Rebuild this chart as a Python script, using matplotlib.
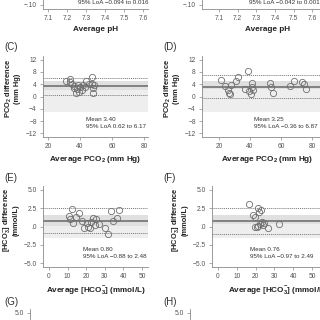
import matplotlib
matplotlib.use("Agg")
import matplotlib.pyplot as plt

plt.rcParams['font.family'] = ['Liberation Sans', 'DejaVu Sans']
plt.rcParams['mathtext.fontset'] = 'custom'
plt.rcParams['mathtext.rm'] = 'Liberation Sans'
plt.rcParams['mathtext.bf'] = 'Liberation Sans:bold'

# panel C: PCO2 (first device)
c_x = [31.5, 33.5, 34.0, 35.0, 36.0, 36.5, 37.5, 38.0, 38.5, 39.5, 40.0, 41.0,
       42.0, 43.0, 44.0, 45.5, 47.8, 47.8, 48.0, 48.0, 48.5]
c_y = [5.0, 5.7, 4.7, 4.2, 3.5, 2.7, 1.2, 2.3, 3.8, 1.5, 3.2, 2.0,
       3.6, 3.0, 5.0, 4.2, 6.3, 4.0, 2.8, 1.3, 3.9]
c_stats = [3.40, 0.62, 6.17]

# panel D: PCO2 (second device)
d_x = [21.0, 24.0, 26.0, 26.5, 27.5, 27.0, 31.0, 32.0, 38.5, 37.0, 39.5, 40.5,
       41.5, 41.5, 42.0, 53.0, 53.5, 55.0, 66.0, 68.5, 73.5, 75.0, 76.0]
d_y = [5.3, 3.3, 2.2, 1.0, 3.8, 0.8, 5.0, 6.3, 8.2, 2.5, 1.9, 0.9,
       4.3, 3.2, 2.0, 4.4, 3.2, 1.0, 3.4, 5.2, 4.8, 4.0, 2.4]
d_stats = [3.25, -0.36, 6.87]

# panel E: HCO3 (first device)
e_x = [11.0, 11.5, 12.5, 13.0, 14.5, 16.0, 18.0, 19.0, 20.3, 21.0, 22.0, 22.8,
       23.5, 24.5, 25.5, 27.0, 30.0, 31.5, 33.2, 34.2, 36.4, 37.8]
e_y = [1.45, 1.0, 2.35, 0.45, 1.35, 1.85, 0.75, -0.25, 0.45, 0.0, -0.15, 0.55,
       1.1, 0.2, 1.0, 0.3, -0.15, -1.05, 2.05, 0.7, 1.2, 2.3]
e_stats = [0.80, -0.88, 2.48]

# panel F: HCO3 (second device)
f_x = [16.5, 18.8, 19.8, 21.5, 22.0, 22.8, 19.5, 20.5, 21.3, 22.3, 23.2, 23.8,
       24.5, 26.5, 32.5]
f_y = [3.1, 1.6, 1.35, 2.55, 2.0, 2.3, -0.05, 0.0, 0.1, 0.35, 0.6, 0.25,
       0.45, -0.25, 0.3]
f_stats = [0.76, -0.97, 2.49]

pco2_ticks = [-12, -8, -4, 0, 4, 8, 12]
pco2_labels = ['\u221212', '\u22128', '\u22124', '0', '4', '8', '12']
hco3_ticks = [-5.0, -2.5, 0.0, 2.5, 5.0]
hco3_labels = ['\u22125.0', '\u22122.5', '.0', '2.5', '5.0']
ph_ticks = [-0.10, -0.05, 0.0, 0.05, 0.10]
ph_labels = ['\u2212.10', '\u2212.05', '.00', '.05', '.10']
ph_xticks = [7.1, 7.2, 7.3, 7.4, 7.5, 7.6]

fig = plt.figure(figsize=(3.2, 3.2), dpi=100)
W = H = 320.0


def px_axes(left, top, right, bottom):
    ax = fig.add_axes([left / W, 1 - bottom / H, (right - left) / W, (bottom - top) / H])
    for s in ['top', 'right']:
        ax.spines[s].set_visible(False)
    for s in ['left', 'bottom']:
        ax.spines[s].set_color('#8a8a8a')
        ax.spines[s].set_linewidth(0.6)
    ax.tick_params(length=2.5, width=0.5, color='#8a8a8a', labelsize=4.8,
                   labelcolor='#555555', pad=2)
    return ax


def label(x, y, s):
    fig.text(x / W, 1 - y / H, s, fontsize=7, color='#333333', va='center', ha='left')


def bland(ax, x, y, stats, band, light, txty):
    ax.axhspan(light[0], light[1], color='#eeeeee', lw=0, zorder=0)
    ax.axhspan(band[0], band[1], color='#e0e0e0', lw=0, zorder=0)
    ax.axhline(stats[0], color='#7a7a7a', lw=1.3, zorder=1)
    ax.axhline(stats[1], color='#777777', lw=0.7, ls=(0, (1, 1)), zorder=1)
    ax.axhline(stats[2], color='#777777', lw=0.7, ls=(0, (1, 1)), zorder=1)
    ax.plot(x, y, 'o', ms=4.5, mfc='none', mec='#707070', mew=0.6, zorder=2)
    ax.text(txty[0], txty[1], 'Mean %.2f' % stats[0], transform=ax.transAxes,
            fontsize=4.5, color='#333333')
    lo = ('%.2f' % stats[1]).replace('-', '\u2212')
    ax.text(txty[0], txty[1] - 0.095, '95%% LoA %s to %.2f' % (lo, stats[2]),
            transform=ax.transAxes, fontsize=4.5, color='#333333')


xlab_kw = dict(fontsize=5.9, fontweight='bold', color='#222222')
ylab_kw = dict(fontsize=5.4, fontweight='bold', color='#222222', linespacing=1.0)
hco3 = '[HCO$_\\mathbf{3}^\\mathbf{-}$]'
pco2 = 'PCO$_\\mathbf{2}$'

# top row (A, B) - only the bottom edge is visible
for left, right, xl in [(43, 148, (7.074, 7.626)), (202, 333, (7.009, 7.711))]:
    ax = px_axes(left, -72, right, 8.5)
    ax.set_xlim(*xl)
    ax.set_ylim(-0.11, 0.11)
    ax.set_xticks(ph_xticks)
    ax.set_xticklabels([str(t) for t in ph_xticks])
    ax.set_yticks(ph_ticks)
    ax.set_yticklabels(ph_labels)
    ax.set_xlabel('Average pH', labelpad=3, **xlab_kw)
ax_a, ax_b = fig.axes[0], fig.axes[1]
ax_a.text(0.33, 0.05, '95% LoA \u22120.094 to 0.016', transform=ax_a.transAxes,
          fontsize=4.5, color='#333333')
ax_b.text(0.36, 0.05, '95% LoA \u22120.042 to 0.001', transform=ax_b.transAxes,
          fontsize=4.5, color='#333333')

# C
ax = px_axes(43, 56, 148, 137)
ax.set_xlim(16.9, 82.5)
ax.set_ylim(-13.2, 13.2)
bland(ax, c_x, c_y, c_stats, (2.2, 5.0), (-5.0, 5.0), (0.41, 0.2))
ax.set_xticks([20, 40, 60, 80])
ax.set_yticks(pco2_ticks)
ax.set_yticklabels(pco2_labels)
ax.set_xlabel('Average ' + pco2 + ' (mm Hg)', labelpad=3, **xlab_kw)
ax.set_ylabel(pco2 + ' difference\n(mm Hg)', labelpad=3, y=0.6, **ylab_kw)

# D
ax = px_axes(202, 56, 333, 137)
ax.set_xlim(9.0, 93.5)
ax.set_ylim(-13.2, 13.2)
bland(ax, d_x, d_y, d_stats, (2.4, 5.0), (-5.0, 5.0), (0.40, 0.2))
ax.set_xticks([20, 40, 60, 80])
ax.set_yticks(pco2_ticks)
ax.set_yticklabels(pco2_labels)
ax.set_xlabel('Average ' + pco2 + ' (mm Hg)', labelpad=3, **xlab_kw)
ax.set_ylabel(pco2 + ' difference\n(mm Hg)', labelpad=3, y=0.6, **ylab_kw)

# E
ax = px_axes(43, 186, 148, 267)
ax.set_xlim(-3.2, 53.2)
ax.set_ylim(-5.5, 5.5)
bland(ax, e_x, e_y, e_stats, (0.1, 1.5), (-1.6, 1.5), (0.38, 0.2))
ax.set_xticks([0, 10, 20, 30, 40, 50])
ax.set_yticks(hco3_ticks)
ax.set_yticklabels(hco3_labels)
ax.set_xlabel('Average ' + hco3 + ' (mmol/L)', labelpad=3, **xlab_kw)
ax.set_ylabel(hco3 + ' difference\n(mmol/L)', labelpad=3, y=0.58, **ylab_kw)

# F
ax = px_axes(212, 186, 344, 267)
ax.set_xlim(-3.2, 67.0)
ax.set_ylim(-5.5, 5.5)
bland(ax, f_x, f_y, f_stats, (0.3, 1.5), (-1.6, 1.5), (0.29, 0.2))
ax.set_xticks([0, 10, 20, 30, 40, 50, 60])
ax.set_yticks(hco3_ticks)
ax.set_yticklabels(hco3_labels)
ax.set_xlabel('Average ' + hco3 + ' (mmol/L)', labelpad=3, **xlab_kw)
ax.set_ylabel(hco3 + ' difference\n(mmol/L)', labelpad=3, y=0.58, **ylab_kw)

# bottom row (G, H) - only the top edge is visible
for left, right in [(30, 148), (190, 330)]:
    ax = px_axes(left, 309, right, 390)
    ax.set_ylim(-5.5, 5.5)
    ax.set_xlim(0, 50)
    ax.set_yticks(hco3_ticks)
    ax.set_yticklabels(hco3_labels)

label(4, 47, '(C)')
label(163, 47, '(D)')
label(4, 178, '(E)')
label(163, 178, '(F)')
label(4, 302, '(G)')
label(163, 302, '(H)')

fig.savefig('out.png', dpi=100)
